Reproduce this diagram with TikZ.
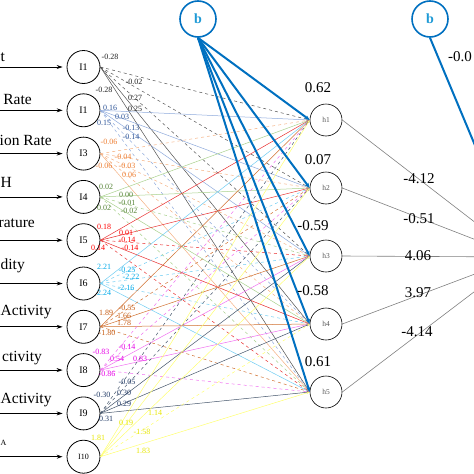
\documentclass[tikz,border=0pt]{standalone}
\usepackage{fontspec}
\setmainfont{Liberation Serif}
\usetikzlibrary{arrows.meta}
\definecolor{l1}{HTML}{505050}\definecolor{t1}{HTML}{202020}
\definecolor{l2}{HTML}{8FAADC}\definecolor{t2}{HTML}{2F5597}
\definecolor{l3}{HTML}{F4B183}\definecolor{t3}{HTML}{ED7D31}
\definecolor{l4}{HTML}{A9D18E}\definecolor{t4}{HTML}{548235}
\definecolor{l5}{HTML}{E83030}\definecolor{t5}{HTML}{FF0000}
\definecolor{l6}{HTML}{70CDF2}\definecolor{t6}{HTML}{00A8E8}
\definecolor{l7}{HTML}{D07030}\definecolor{t7}{HTML}{C55A11}
\definecolor{l8}{HTML}{F070F0}\definecolor{t8}{HTML}{E600E6}
\definecolor{l9}{HTML}{44546A}\definecolor{t9}{HTML}{1F3864}
\definecolor{l10}{HTML}{FFFF70}\definecolor{t10}{HTML}{E6E600}
\definecolor{bblue}{HTML}{0070C0}\definecolor{btext}{HTML}{1E9AD6}
\begin{document}
\begin{tikzpicture}[x=1pt,y=-1pt,
  inp/.style={circle,draw=black,line width=0.8pt,fill=white,minimum size=33pt,inner sep=0pt,font=\fontsize{10}{10}\selectfont},
  hid/.style={circle,draw=black,line width=0.6pt,fill=white,minimum size=32pt,inner sep=0pt,text=gray!70!black,font=\fontsize{7.5}{8}\selectfont},
  bias/.style={circle,draw=bblue,line width=1.6pt,fill=white,minimum size=36pt,inner sep=0pt,text=btext,font=\fontsize{14}{14}\selectfont\bfseries},
  inlab/.style={anchor=east,inner sep=0pt,font=\fontsize{15.5}{16}\selectfont},
  inlabw/.style={anchor=west,inner sep=0pt,font=\fontsize{15.5}{16}\selectfont},
  wlab/.style={inner sep=0pt,font=\fontsize{8}{8}\selectfont},
  blab/.style={inner sep=0pt,font=\fontsize{15}{15}\selectfont},
  inarrow/.style={line width=0.8pt,-{Stealth[length=6pt,width=4pt]},shorten >=4pt},
  conn/.style={line width=0.5pt,-{Stealth[length=3pt,width=2.2pt]}},
  bline/.style={draw=bblue,line width=2pt,-{Stealth[length=5pt,width=4pt]}},
  oline/.style={draw=gray,line width=0.6pt}]
\useasboundingbox (0,0) rectangle (474,474);
\clip (0,0) rectangle (474,474);
% input nodes
\foreach \k/\t in {1/I1,2/I1,3/I3,4/I4,5/I5,6/I6,7/I7,8/I8,9/I9}{
  \node[inp] (I\k) at (83.5,{67+43.3*(\k-1)}) {\t};
}
\node[inp,font=\fontsize{8}{8}\selectfont] (I10) at (83.5,{67+43.3*9}) {I10};
\foreach \k in {1,...,10}{
  \coordinate (s\k) at (-5,{67+43.3*(\k-1)});
  \draw[inarrow] (s\k) -- (I\k);
}
% hidden nodes
\foreach \j/\y in {1/120,2/188,3/256,4/324,5/392}{
  \node[hid] (h\j) at (326,\y) {h\j};
}
% bias nodes and output
\node[bias] (bA) at (198,19) {b};
\node[bias] (bB) at (430,19) {b};
\coordinate (out) at (520,257);
\coordinate (outtop) at (515,241);
% input labels (as far as the picture shows them)
\node[inlabw] at (0.5,57) {t};
\node[inlab] at (32,99) {Rate};
\node[inlab] at (52,140) {ion Rate};
\node[inlabw] at (0.5,182) {H};
\node[inlab] at (35,223) {rature};
\node[inlab] at (25,266) {dity};
\node[inlabw] at (0.5,312) {Activity};
\node[inlabw] at (2,358) {ctivity};
\node[inlabw] at (0.5,400) {Activity};
\node[inlabw,font=\fontsize{8}{8}\selectfont] at (0.5,443) {A};
% connections input -> hidden
\foreach \k/\j/\ds in {
1/1/dashed,1/2/dashed,1/3/dashed,1/4/solid,1/5/solid,
2/1/solid,2/2/solid,2/3/solid,2/4/dashed,2/5/dashed,
3/1/dashed,3/2/dashed,3/3/dashed,3/4/dashed,3/5/solid,
4/1/solid,4/2/solid,4/3/dashed,4/4/solid,4/5/dashed,
5/1/solid,5/2/solid,5/3/dashed,5/4/solid,5/5/dashed,
6/1/solid,6/2/dashed,6/3/dashed,6/4/dashed,6/5/solid,
7/1/solid,7/2/dashed,7/3/solid,7/4/solid,7/5/dashed,
8/1/dashed,8/2/dashed,8/3/solid,8/4/solid,8/5/dashed,
9/1/dashed,9/2/dashed,9/3/solid,9/4/solid,9/5/solid,
10/1/solid,10/2/solid,10/3/solid,10/4/dashed,10/5/solid}{
  \draw[conn,draw=l\k,\ds] (I\k.east) -- (h\j.west);
}
% bias lines
\foreach \j in {1,...,5}{ \draw[bline] (bA.south) -- (h\j.west); }
\draw[draw=bblue,line width=2pt] (bB.south) -- (outtop);
% hidden -> output
\foreach \j in {1,...,5}{ \draw[oline] (h\j.east) -- (out); }
% weight labels
\foreach \k/\w/\px/\py in {
1/-0.28/110/57,1/-0.02/134/82,1/-0.28/104/90,1/0.27/135/98,1/0.25/135/109,
2/0.16/110/108,2/0.03/122/117,2/0.15/104/123,2/-0.13/131/128,2/-0.14/131/137,
3/-0.06/109/142,3/-0.04/123/157,3/-0.06/104/166,3/-0.03/127/166,3/0.06/129/175,
4/0.02/106/187,4/0.00/126/195,4/-0.01/127/203,4/0.02/104/208,4/-0.02/129/211,
5/0.18/104/227,5/0.01/126/233,5/-0.14/127/240,5/0.14/98/248,5/-0.14/130/248,
6/2.21/104/267,6/-0.25/127/270,6/-2.22/131/277,6/-2.16/126/288,6/2.24/104/293,
7/1.89/106/313,7/-0.55/127/308,7/1.66/124/316,7/1.78/124/323,7/-1.80/107/333,
8/-0.83/101/352,8/-0.14/127/347,8/0.54/117/359,8/0.83/140/359,8/-0.86/107/374,
9/-0.05/127/382,9/-0.30/102/395,9/0.30/124/393,9/0.29/124/404,9/0.31/106/419,
10/1.81/98/438,10/1.14/155/413,10/0.19/126/423,10/-1.58/142/432,10/1.83/143/451}{
  \node[wlab,text=t\k] at (\px,\py) {\w};
}
% hidden biases
\node[blab] at (318,88) {0.62};
\node[blab] at (318,160) {0.07};
\node[blab] at (313,226) {-0.59};
\node[blab] at (313,291) {-0.58};
\node[blab] at (318,362) {0.61};
% output weights
\node[blab] at (419,179) {-4.12};
\node[blab] at (419,219) {-0.51};
\node[blab] at (418,256) {4.06};
\node[blab] at (418,293) {3.97};
\node[blab] at (417,332) {-4.14};
\node[blab,anchor=west] at (448,57) {-0.0};
\end{tikzpicture}
\end{document}
